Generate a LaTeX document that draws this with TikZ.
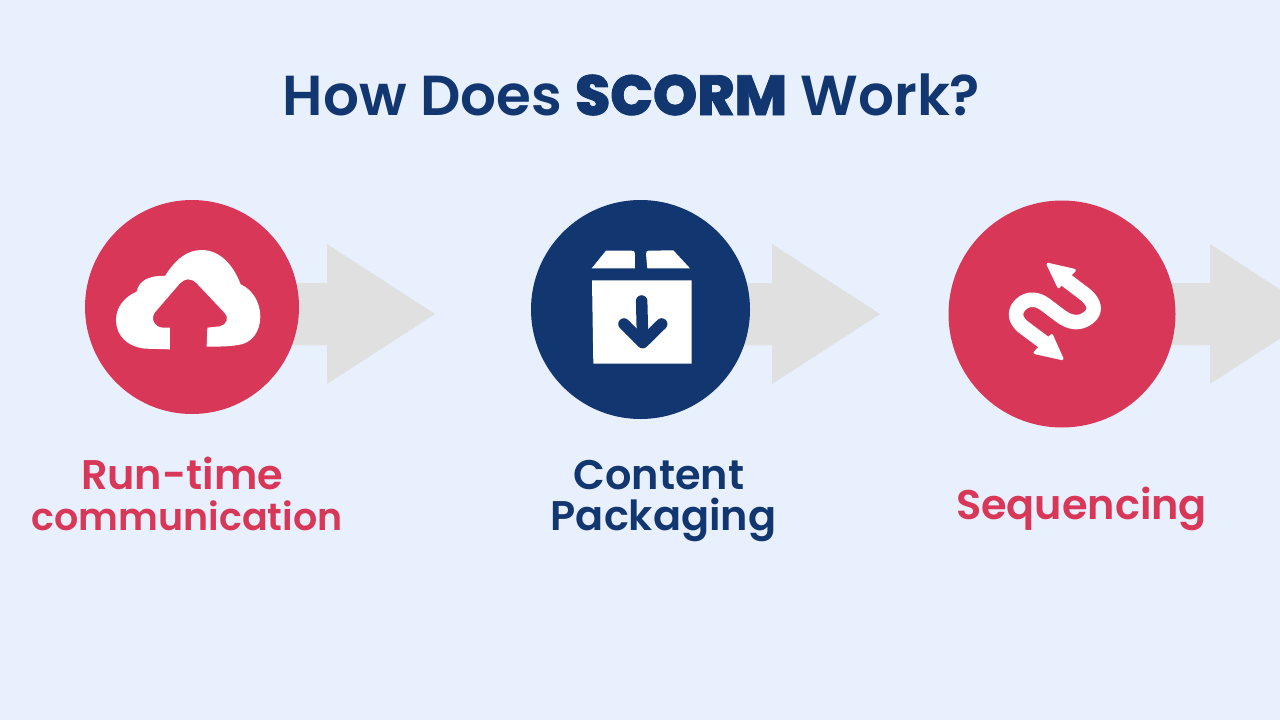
\documentclass[tikz,border=0pt]{standalone}
\usepackage{fontspec}
\setmainfont{Poppins}
\newfontfamily\popsemi{Poppins SemiBold}
\newfontfamily\popblack[FakeBold=1.5]{Poppins ExtraBold}
\definecolor{bgblue}{HTML}{E8F0FD}
\definecolor{navy}{HTML}{113670}
\definecolor{crimson}{HTML}{D93758}
\definecolor{arrowgrey}{HTML}{E0E0E0}
\tikzset{
  disc/.style={circle,draw=none,fill=#1,inner sep=0pt},
  flow/.style={fill=arrowgrey,draw=none},
  titletext/.style={text=navy,font=\fontsize{56.35}{60}\popsemi,inner sep=0pt,anchor=base},
  labeltext/.style={text=#1,font=\fontsize{41.4}{44}\popsemi,inner sep=0pt,anchor=base},
  smalllabel/.style={text=#1,font=\fontsize{38}{42}\popsemi,inner sep=0pt,anchor=base},
  iconfill/.style={fill=white,draw=none},
  zoomA/.style={shift={(80,195)},x=0.3333pt,y=-0.3333pt},
  zoomB/.style={shift={(525,195)},x=0.3333pt,y=-0.3333pt},
  zoomC/.style={shift={(945,195)},x=0.3333pt,y=-0.3333pt},
}
\begin{document}
\begin{tikzpicture}[x=1pt,y=-1pt]
\path[use as bounding box,fill=bgblue] (0,0) rectangle (1280,720);
\clip (0,0) rectangle (1280,720);
% flow arrows
\fill[flow] (280,283) -- (327,283) -- (327,244) -- (435,314) -- (327,384) -- (327,345) -- (280,345) -- cycle;
\fill[flow] (730,283) -- (772,283) -- (772,244) -- (880,314) -- (772,384) -- (772,345) -- (730,345) -- cycle;
\fill[flow] (1160,283) -- (1210,283) -- (1210,244) -- (1318,314) -- (1210,384) -- (1210,345) -- (1160,345) -- cycle;
% discs
\node[disc=crimson,minimum size=214pt] (runtime) at (192,307) {};
\node[disc=navy,minimum size=219pt] (packaging) at (640.5,309.5) {};
\node[disc=crimson,minimum size=227pt] (sequencing) at (1062,314) {};
% cloud icon
\begin{scope}[zoomA]
\fill[iconfill,even odd rule]
 (270,463) -- (195,461) .. controls (140,455) and (108,420) .. (108,375)
 .. controls (108,335) and (135,305) .. (170,290)
 .. controls (175,260) and (205,240) .. (255,243)
 .. controls (285,195) and (320,165) .. (365,165)
 .. controls (420,165) and (460,210) .. (482,268)
 .. controls (520,285) and (541,325) .. (541,365)
 .. controls (541,410) and (515,445) .. (475,450)
 .. controls (445,455) and (410,455) .. (380,455)
 -- (382,398) -- (420,394)
 .. controls (440,390) and (447,368) .. (435,355)
 -- (350,265) .. controls (332,248) and (315,250) .. (300,265)
 -- (225,352) .. controls (210,372) and (225,398) .. (250,398)
 -- (270,398) -- cycle;
\end{scope}
% box icon
\begin{scope}[zoomB]
\fill[iconfill] (200,220) -- (243,167) -- (320,167) .. controls (327,167) and (330,170) .. (330,177) -- (330,220) -- cycle;
\fill[iconfill] (495,220) -- (445,166) -- (372,167) .. controls (366,167) and (363,170) .. (363,177) -- (367,220) -- cycle;
\fill[iconfill] (201,256) -- (500,256) -- (500,506) -- (205,506) -- cycle;
\draw[navy,line width=11.5pt,line cap=round,line join=round] (350,318) -- (353,440);
\draw[navy,line width=11.5pt,line cap=round,line join=round] (297,387) -- (353,443) -- (410,387);
\end{scope}
% sequencing icon
\begin{scope}[zoomC]
\draw[white,line width=14.5pt,line join=round]
 (350,245) -- (420,298) .. controls (450,322) and (455,350) .. (430,368)
 .. controls (405,388) and (375,385) .. (345,362)
 -- (300,328) .. controls (270,305) and (235,312) .. (218,340)
 .. controls (205,365) and (220,385) .. (240,400)
 -- (310,452);
\filldraw[white,line width=3pt,line join=round] (309,208) -- (388,226) -- (341,275) -- cycle;
\filldraw[white,line width=3pt,line join=round] (351,491) -- (270,473) -- (320,422) -- cycle;
\end{scope}
% texts
\node[titletext,anchor=base west] (ttl) at (282.5,115) {How Does {\popblack SCORM} Work?};
\node[labeltext=crimson] (l1a) at (182,489) {Run-time};
\node[smalllabel=crimson] (l1b) at (187,530) {communication};
\node[labeltext=navy] (l2a) at (659,489) {Content};
\node[labeltext=navy] (l2b) at (663.5,530) {Packaging};
\node[labeltext=crimson] (l3) at (1081.5,519) {Sequencing};
\end{tikzpicture}
\end{document}
